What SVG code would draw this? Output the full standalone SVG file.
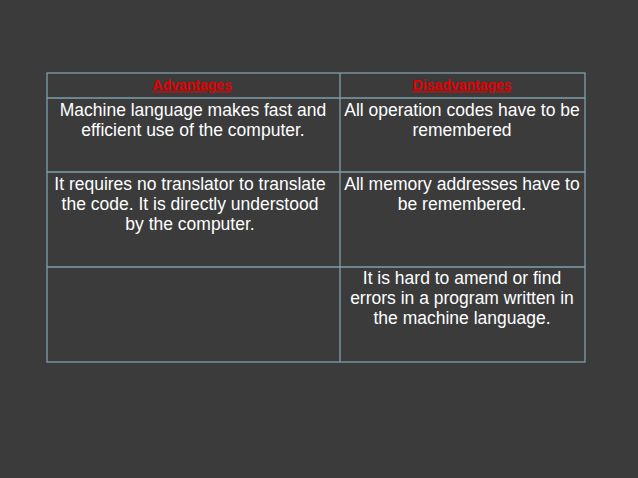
<svg xmlns="http://www.w3.org/2000/svg" width="638" height="478" viewBox="0 0 638 478">
<style>
.b{fill:#ffffff;font-family:"Liberation Sans",Arial,sans-serif;font-size:17.5px;text-anchor:middle}
.h{fill:#e00000;font-family:"Liberation Sans",Arial,sans-serif;font-size:14px;font-weight:bold;text-anchor:middle;text-decoration:underline}
.ln{stroke:#7f9ea9;stroke-width:1.3;fill:none}
</style>
<rect width="638" height="478" fill="#3b3b3b"/>
<g id="table">
<rect x="47" y="73" width="538" height="289" fill="#383838" class="ln"/>
<path class="ln" d="M340 73V362M47 98H585M47 172H585M47 267H585"/>
</g>
<g id="header">
<text class="h" x="192" y="90">Advantages</text>
<text class="h" x="462" y="90">Disadvantages</text>
</g>
<g id="row1">
<text class="b" x="193" y="116">Machine language makes fast and</text>
<text class="b" x="193" y="136">efficient use of the computer.</text>
<text class="b" x="462" y="116">All operation codes have to be</text>
<text class="b" x="462" y="136">remembered</text>
</g>
<g id="row2">
<text class="b" x="190" y="190">It requires no translator to translate</text>
<text class="b" x="190" y="210">the code. It is directly understood</text>
<text class="b" x="190" y="230">by the computer.</text>
<text class="b" x="462" y="190">All memory addresses have to</text>
<text class="b" x="462" y="210">be remembered.</text>
</g>
<g id="row3">
<text class="b" x="462" y="284">It is hard to amend or find</text>
<text class="b" x="462" y="304">errors in a program written in</text>
<text class="b" x="462" y="324">the machine language.</text>
</g>
</svg>
